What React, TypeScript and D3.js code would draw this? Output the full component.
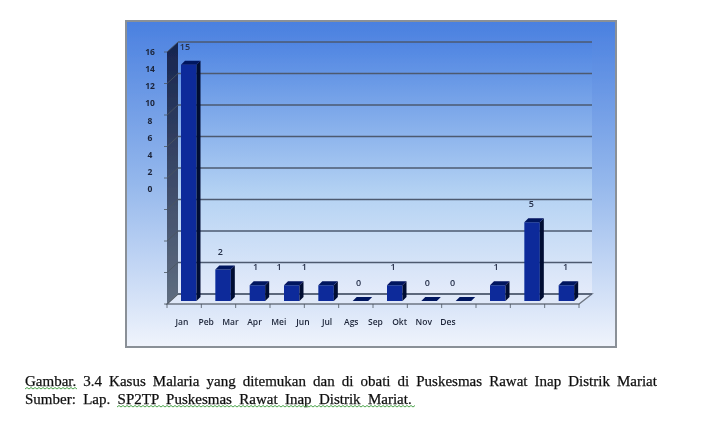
import React from "react";
import { scaleLinear, scaleBand, range } from "d3";

const months = ["Jan", "Peb", "Mar", "Apr", "Mei", "Jun", "Jul", "Ags", "Sep", "Okt", "Nov", "Des"];
const cases = [15, 2, 1, 1, 1, 0, 1, 0, 0, 1, 5, 1];
const yTicks = [16, 14, 12, 10, 8, 6, 4, 2, 0];
const labelShift = [-5, -4, -3, -14, -23, -3, -3, -3, -12, -3, -2, -2];
const captionLine1 = "Gambar. 3.4 Kasus Malaria yang ditemukan dan di obati di Puskesmas Rawat Inap Distrik Mariat";
const captionLine2 = "Sumber: Lap. SP2TP Puskesmas Rawat Inap Distrik Mariat.";

const depthX = 11, depthY = 10;
const floorFrontY = 304, floorFrontL = 167, floorFrontR = 579;
const slot = scaleBand<number>().domain(range(12)).range([floorFrontL, floorFrontR]);
const y = scaleLinear().domain([0, 16]).range([floorFrontY, floorFrontY - 252]);
const catLabelX = scaleLinear().domain([0, 11]).range([182, 448]);
const tickLabelY = scaleLinear().domain([0, 16]).range([189, 52]);

const wave = (x0: number, x1: number, yy: number) => {
  let d = `M${x0},${yy}`;
  let up = true;
  for (let x = x0 + 2; x <= x1; x += 2) {
    d += `L${x},${yy + (up ? -1.5 : 0)}`;
    up = !up;
  }
  return d;
};

export default function App() {
  const sans = "'Open Sans','DejaVu Sans',sans-serif";
  const serif = "'Liberation Serif',serif";
  return (
    <svg width={715} height={427} style={{ position: "absolute", left: 0, top: 0, background: "#fff" }}>
      <defs>
        <linearGradient id="bg" x1="0" y1="0" x2="0" y2="1">
          <stop offset="0" stopColor="#4a80e0" />
          <stop offset="0.5" stopColor="#95b8ec" />
          <stop offset="1" stopColor="#f0f4fc" />
        </linearGradient>
        <linearGradient id="plot" x1="0" y1="0" x2="0" y2="1">
          <stop offset="0" stopColor="#4f85e2" />
          <stop offset="0.6" stopColor="#b4d2f3" />
          <stop offset="1" stopColor="#e4ebfa" />
        </linearGradient>
        <linearGradient id="wall" x1="0" y1="0" x2="0" y2="1">
          <stop offset="0" stopColor="#16244f" />
          <stop offset="1" stopColor="#5f6d80" />
        </linearGradient>
        <filter id="soft" x="-2%" y="-2%" width="104%" height="104%">
          <feGaussianBlur stdDeviation="0.5" />
        </filter>
      </defs>
      <g filter="url(#soft)">
        <rect x={126} y={21} width={490} height={326} fill="url(#bg)" stroke="#8a9097" strokeWidth={2} />
        <rect x={178} y={42} width={414} height={252} fill="url(#plot)" />
        <polygon
          points={`${floorFrontL},${y(16)} ${floorFrontL + depthX},${y(16) - depthY} ${floorFrontL + depthX},${floorFrontY - depthY} ${floorFrontL},${floorFrontY}`}
          fill="url(#wall)"
        />
        <polygon
          points={`${floorFrontL},${floorFrontY} ${floorFrontL + depthX},${floorFrontY - depthY} ${floorFrontR + 13},${floorFrontY - depthY} ${floorFrontR},${floorFrontY}`}
          fill="#dfe8f8"
          stroke="#6e7682"
          strokeWidth={1.3}
        />
        {yTicks.map((t) => (
          <g key={t}>
            <line x1={floorFrontL + depthX} x2={592} y1={y(t) - depthY} y2={y(t) - depthY} stroke="#4d5a70" strokeWidth={1.5} />
            <line x1={floorFrontL} x2={floorFrontL + depthX} y1={y(t)} y2={y(t) - depthY} stroke="#4b5560" strokeWidth={0.8} />
            <line x1={floorFrontL - 3} x2={floorFrontL} y1={y(t)} y2={y(t)} stroke="#4b5560" strokeWidth={0.8} />
          </g>
        ))}
        {range(13).map((i) => {
          const x = floorFrontL + i * slot.step();
          return <line key={i} x1={x} x2={x} y1={floorFrontY} y2={floorFrontY + 4} stroke="#4b5560" strokeWidth={0.8} />;
        })}
        {cases.map((v, i) => {
          const x0 = (slot(i) as number) + 14;
          const w = 15.5, dx = 4, dy = 4;
          const base = 301;
          const top = base - (floorFrontY - y(v));
          return (
            <g key={i}>
              {v > 0 && <rect x={x0} y={top} width={w} height={base - top} fill="#0a2c9a" />}
              {v > 0 && (
                <polygon points={`${x0 + w},${top} ${x0 + w + dx},${top - dy} ${x0 + w + dx},${base - dy} ${x0 + w},${base}`} fill="#000b33" />
              )}
              <polygon points={`${x0},${top} ${x0 + dx},${top - dy} ${x0 + w + dx},${top - dy} ${x0 + w},${top}`} fill="#00125e" />
            </g>
          );
        })}
        {cases.map((v, i) => (
          <text
            key={i}
            x={(slot(i) as number) + 23 + labelShift[i]}
            y={y(v) - 18}
            textAnchor="middle"
            fontFamily={sans}
            fontSize={9}
            fontWeight={600}
            fill="#26304a"
          >
            {v}
          </text>
        ))}
        {yTicks.map((t) => (
          <text key={t} x={150} y={tickLabelY(t) + 3} textAnchor="middle" fontFamily={sans} fontSize={8.5} fontWeight={700} fill="#1c2438">
            {t}
          </text>
        ))}
        {months.map((m, i) => (
          <text key={m} x={catLabelX(i)} y={325} textAnchor="middle" fontFamily={sans} fontSize={8.5} fontWeight={600} fill="#1c2438">
            {m}
          </text>
        ))}
        <text x={25} y={386} fontFamily={serif} fontSize={15} fill="#111" stroke="#111" strokeWidth={0.25} wordSpacing={3.3}>
          {captionLine1}
        </text>
        <text x={25} y={404} fontFamily={serif} fontSize={15} fill="#111" stroke="#111" strokeWidth={0.25} wordSpacing={3.6}>
          {captionLine2}
        </text>
        <path d={wave(25, 78, 389)} fill="none" stroke="#3a9a3a" strokeWidth={0.9} />
        <path d={wave(117, 415, 407)} fill="none" stroke="#3a9a3a" strokeWidth={0.9} />
      </g>
    </svg>
  );
}
